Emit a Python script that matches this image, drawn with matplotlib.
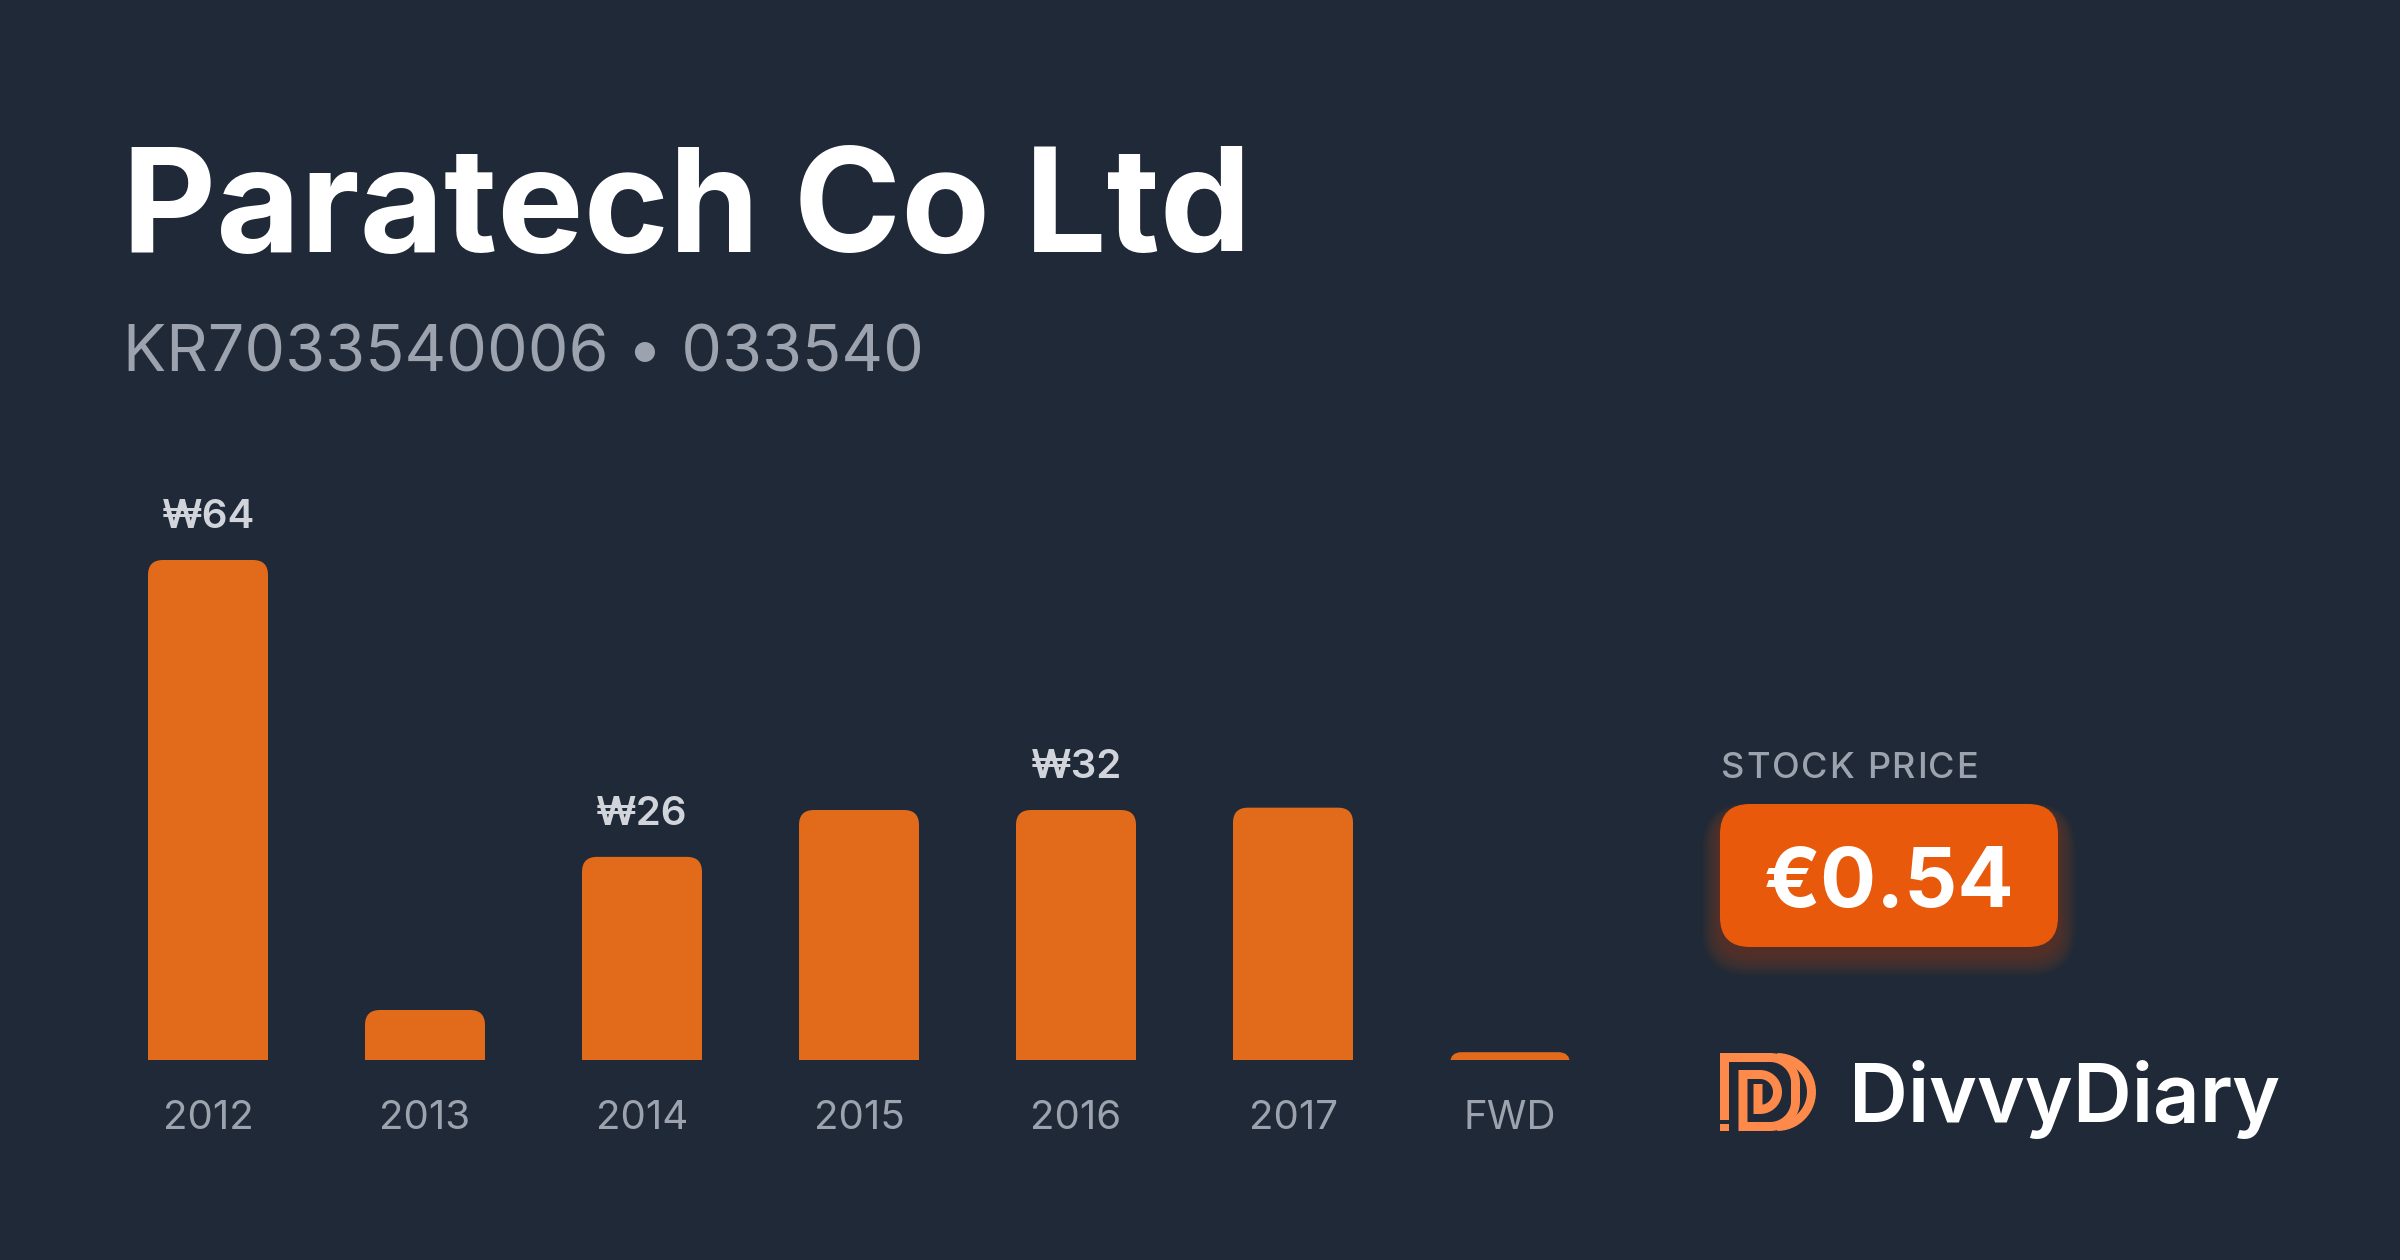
import matplotlib
matplotlib.use('Agg')
import matplotlib.pyplot as plt
from matplotlib.patches import FancyBboxPatch, Rectangle
from matplotlib.path import Path
from matplotlib.patches import PathPatch
import numpy as np

# data
years = ['2012', '2013', '2014', '2015', '2016', '2017', 'FWD']
dividends = [64, 6.4, 26, 32, 32, 32.3, 1.0]
labelled = [0, 2, 4]          # bars that carry a value label
currency = '₩'

company = 'Paratech Co Ltd'
subtitle = 'KR7033540006 • 033540'
price_label = 'STOCK PRICE'
price = '€0.54'
brand = 'DivvyDiary'

BG = '#1f2937'
BAR = '#e16b1a'
BOX = '#e8590c'
GREY = '#9ca3af'
LIGHT = '#d1d5db'
LOGO = '#fd8a4b'
FONT = ['Inter', 'DejaVu Sans']

plt.rcParams['font.family'] = FONT

W, H = 2400, 1260
fig = plt.figure(figsize=(24, 12.6), dpi=100, facecolor=BG)

# ---- bar chart: centres 217 px apart, baseline at y=1060 px, 7.8125 px per unit
step_px, unit_px = 217.0, 7.8125
x0_px, base_px = 208.0 - step_px / 2, 1060.0
ymax = 80
ax = fig.add_axes([x0_px / W, (H - base_px) / H,
                   step_px * len(years) / W, ymax * unit_px / H])
ax.set_facecolor('none')
ax.set_xlim(-0.5, len(years) - 0.5)
ax.set_ylim(0, ymax)
for s in ax.spines.values():
    s.set_visible(False)
ax.set_yticks([])
ax.set_xticks(range(len(years)))
ax.set_xticklabels(years, fontsize=29, color=GREY)
ax.tick_params(axis='x', length=0, pad=29)

bw = 120 / step_px
r_px = 15
aspect = step_px / unit_px
bars = ax.bar(range(len(years)), dividends, width=bw, color='none')
for i, b in enumerate(bars):
    h_px = b.get_height() * unit_px
    r = min(r_px, (h_px + r_px) / 2)
    ext = r / unit_px
    patch = FancyBboxPatch((b.get_x(), -ext), b.get_width(), b.get_height() + ext,
                           boxstyle=f'round,pad=0,rounding_size={r / step_px}',
                           mutation_aspect=aspect, fc=BAR, ec='none', clip_on=True)
    ax.add_patch(patch)
    if i in labelled:
        ax.annotate(f'{currency}{dividends[i]:.0f}', (i, dividends[i]),
                    xytext=(0, 23), textcoords='offset points',
                    ha='center', va='baseline', fontsize=29, weight='semibold',
                    color=LIGHT)

# ---- decoration layer in pixel coordinates
deco = fig.add_axes([0, 0, 1, 1])
deco.set_xlim(0, W)
deco.set_ylim(H, 0)
deco.axis('off')
deco.set_zorder(-1)

deco.text(122, 252, company, fontsize=104.5, weight='bold', color='white', va='baseline')
deco.text(123, 371, subtitle, fontsize=46.5, color=GREY, va='baseline')

# letter-spaced caption
renderer = fig.canvas.get_renderer()
x = 1721
for ch in price_label:
    t = deco.text(x, 778, ch, fontsize=26, weight='medium', color=GREY, va='baseline')
    w = t.get_window_extent(renderer).width
    if ch == ' ':
        w = 9
    x += w + 1.8

# glow under the price box
for k in range(14):
    g = 2 + k * 2.2
    deco.add_patch(FancyBboxPatch((1720 - g * 0.6, 804 + 8 - g * 0.3), 338 + g * 1.2, 143 + g,
                                  boxstyle=f'round,pad=0,rounding_size={30 + g * 0.5}',
                                  fc='#e8590c', ec='none', alpha=0.025))
deco.add_patch(FancyBboxPatch((1720, 804), 338, 143,
                              boxstyle='round,pad=0,rounding_size=30',
                              fc=BOX, ec='none'))
deco.text(1889, 907, price, fontsize=60, weight='bold', color='white',
          ha='center', va='baseline')

# logo mark: spiral D plus an outer arc (local px, origin 1700,1030)
def arc(cx, cy, r, a0, a1, n=30):
    t = np.radians(np.linspace(a0, a1, n))
    return list(zip(cx + r * np.cos(t), cy - r * np.sin(t)))

spiral = [(24.5, 90), (24.5, 27.5), (70, 27.5)]
spiral += arc(70, 53, 25.5, 90, 0)
spiral += arc(70, 71, 25.5, 0, -90)
spiral += [(43, 96.5), (43, 44.5), (60, 44.5)]
spiral += arc(60, 62, 17.5, 90, -90)
spiral += [(58, 79.5), (58, 54)]
outer = arc(77, 62, 34.5, 90, -90)
for pts in (spiral, outer):
    pts = [(1700 + x, 1030 + y) for x, y in pts]
    deco.add_patch(PathPatch(Path(pts), fc='none', ec=LOGO, lw=9 * 0.72,
                             capstyle='butt', joinstyle='miter'))
deco.add_patch(Rectangle((1720, 1124), 9, 7, fc=LOGO, ec='none'))

deco.text(1849, 1122, brand, fontsize=58.7, weight='semibold', color='white', va='baseline')

fig.savefig('out.png', dpi=100, facecolor=BG)
